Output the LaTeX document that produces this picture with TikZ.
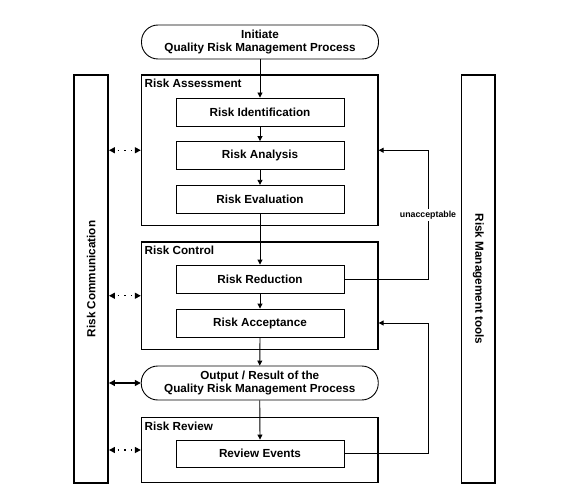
\documentclass[tikz,border=0pt]{standalone}
\usepackage{fontspec}
\setmainfont{Liberation Sans}
\usetikzlibrary{arrows.meta}
\begin{document}
\begin{tikzpicture}[x=1pt,y=-1pt,
  every node/.style={font=\bfseries\fontsize{11.7}{13.8}\selectfont, text=black},
  frame/.style={draw, line width=1.3pt, inner sep=0pt},
  inbox/.style={draw, line width=0.9pt, minimum width=168pt, minimum height=28pt, inner sep=0pt},
  pill/.style={draw, line width=0.9pt, rounded corners=16.5pt, minimum width=237pt, minimum height=34pt, inner sep=0pt, align=center},
  bar/.style={draw, line width=1.5pt, minimum height=408pt, inner sep=0pt},
  title/.style={anchor=north west, inner sep=0pt},
  arr/.style={line width=0.9pt, -{Triangle[length=5pt,width=5pt]}},
  darr/.style={line width=1.4pt, dash pattern=on 1.6pt off 5pt, dash phase=-3pt, {Triangle[length=6pt,width=6pt]}-{Triangle[length=6pt,width=6pt]}},
  sarr/.style={line width=1.2pt, {Triangle[length=6pt,width=6pt]}-{Triangle[length=6pt,width=6pt]}}
]
\useasboundingbox[fill=white] (0,0) rectangle (576,500);

\node[pill] (init) at (260,42) {Initiate\\[-1pt]Quality Risk Management Process};

\node[frame, minimum width=236.5pt, minimum height=150.5pt] (ra) at (259.75,150.25) {};
\node[title] (ratitle) at (144.5,79) {Risk Assessment};
\node[inbox] (ident) at (260,112) {Risk Identification};
\node[inbox] (ana) at (260,155.5) {Risk Analysis};
\node[inbox] (eval) at (260,199.3) {Risk Evaluation};

\node[frame, minimum width=236.5pt, minimum height=107.5pt] (rc) at (259.75,295.75) {};
\node[title] (rctitle) at (144.5,246) {Risk Control};
\node[inbox] (red) at (260,279) {Risk Reduction};
\node[inbox] (acc) at (260,323) {Risk Acceptance};

\node[pill] (out) at (259.75,383) {Output / Result of the\\[-1pt]Quality Risk Management Process};

\node[frame, minimum width=236.5pt, minimum height=65pt] (rr) at (259.75,450) {};
\node[title] (rrtitle) at (144.5,421.5) {Risk Review};
\node[inbox, minimum height=27pt] (rev) at (260,453.5) {Review Events};

\node[bar, minimum width=34pt] (comm) at (91.2,279) {};
\node[rotate=90] (commtext) at (comm.center) {Risk Communication};
\node[bar, minimum width=33.3pt] (tools) at (478.3,279) {};
\node[rotate=-90] (toolstext) at (tools.center) {Risk Management tools};

\coordinate (loopx) at (428,0);

% main flow
\draw[arr] (init.south) -- (ident.north);
\draw[arr] (ident.south) -- (ana.north);
\draw[arr] (ana.south) -- (eval.north);
\draw[arr] (eval.south) -- (red.north);
\draw[arr] (red.south) -- (acc.north);
\draw[arr] (acc.south) -- (out.north);
\draw[arr] (out.south) -- (rev.north);

% feedback loops
\draw[arr] (red.east) -- (red.east -| loopx) -- (ra.east -| loopx) -- (ra.east);
\node[fill=white, inner sep=1.5pt, font=\bfseries\fontsize{8.8}{10}\selectfont] (unacc) at (428,215) {unacceptable};
\draw[arr] (rev.east) -- (rev.east -| loopx) -- (acc.east -| loopx) -- (acc.east -| rc.east);

% communication arrows
\draw[darr] (comm.east |- ra.west) -- (ra.west);
\draw[darr] (comm.east |- rc.west) -- (rc.west);
\draw[sarr] (comm.east |- out.west) -- (out.west);
\draw[darr] (comm.east |- rr.west) -- (rr.west);
\end{tikzpicture}
\end{document}
